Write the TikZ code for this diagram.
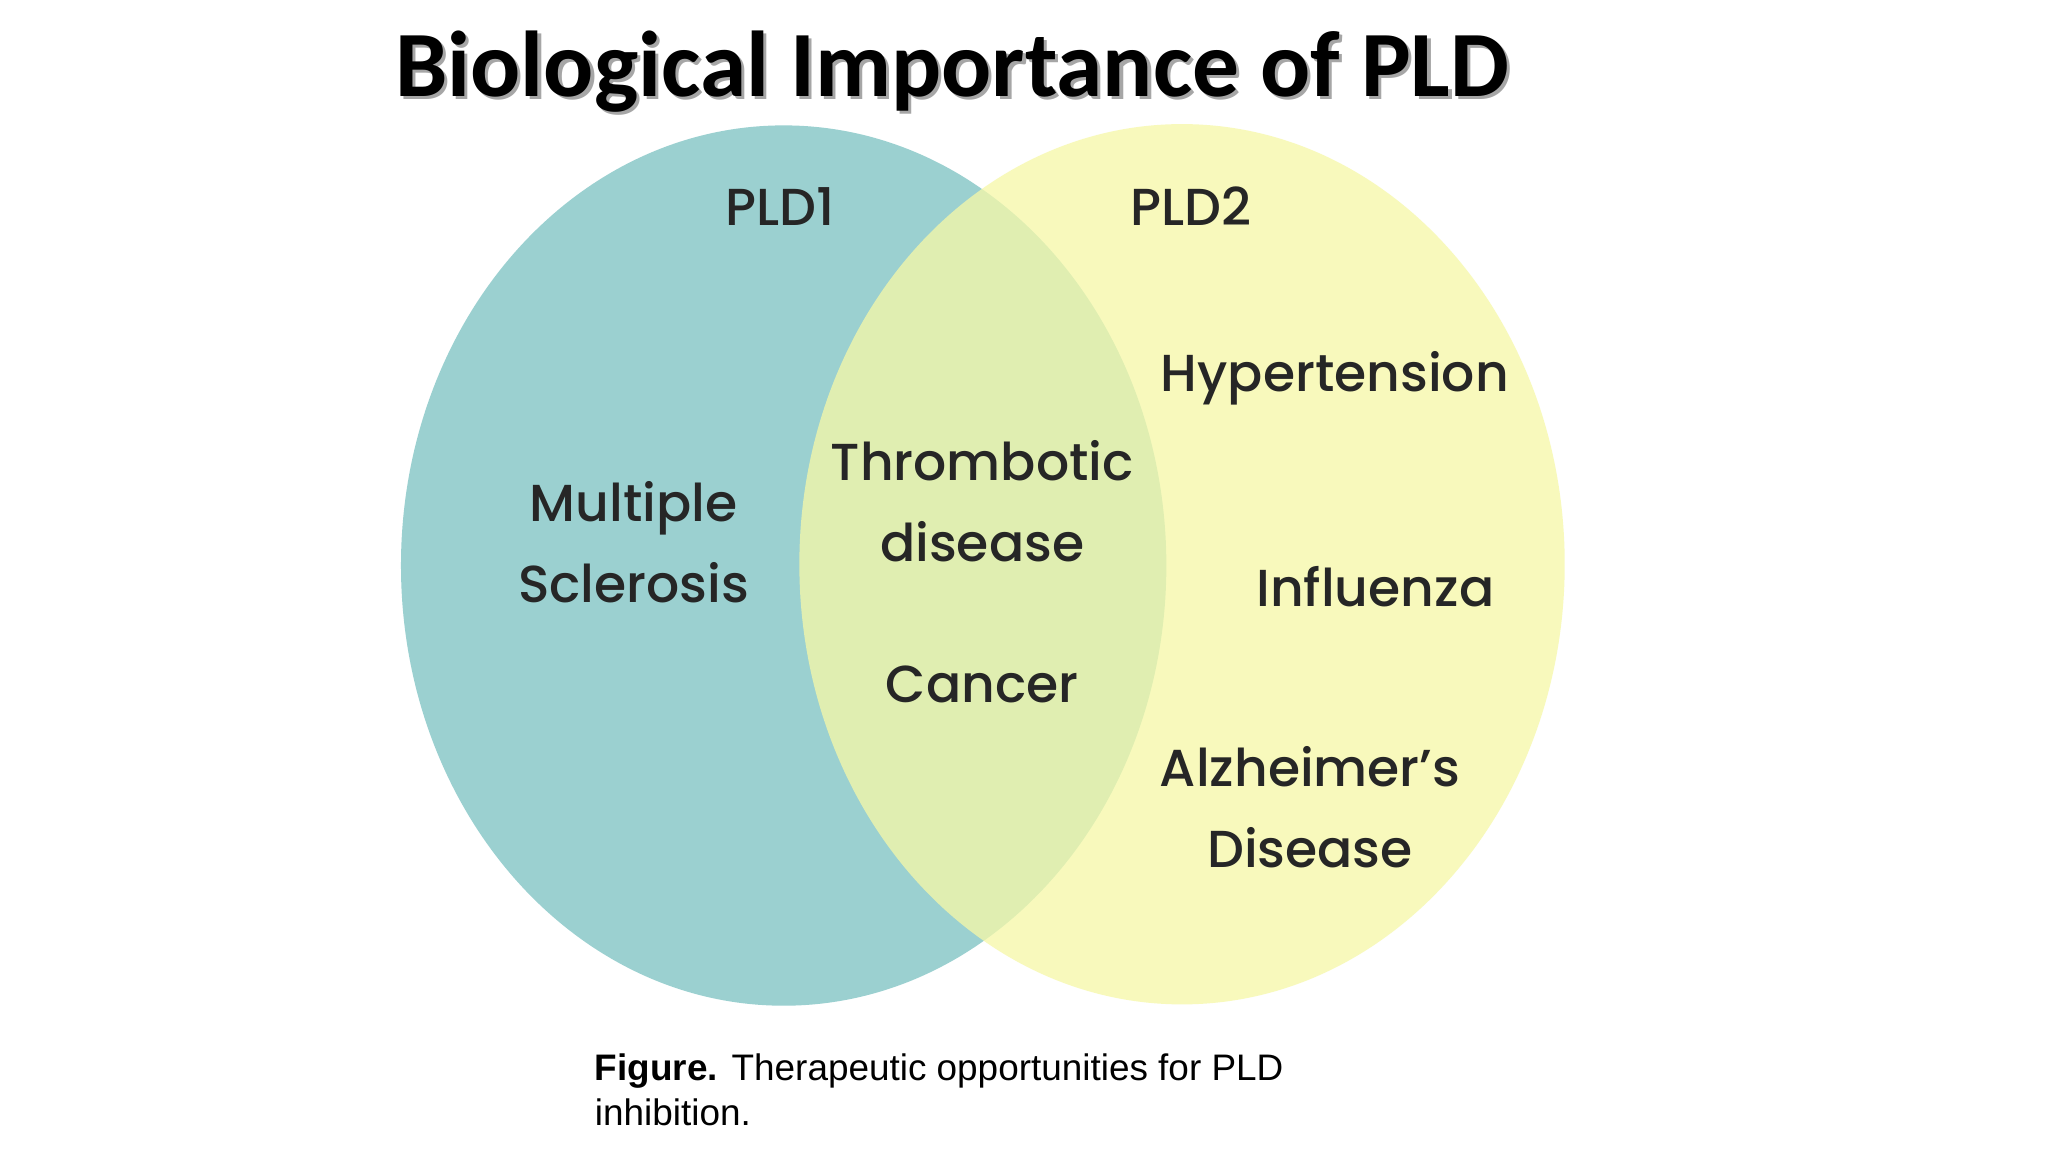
\documentclass[tikz,border=0pt]{standalone}
\usepackage{fontspec}
\setmainfont{Liberation Sans}
\newfontfamily\titlefont{Carlito}
\newfontfamily\lblfont{Poppins}[UprightFont=* Medium]
\begin{document}
\begin{tikzpicture}[x=0.01306cm,y=-0.01306cm,
  lbl/.style={font=\lblfont\fontsize{14.8}{18}\selectfont, align=center, text=black!85},
  ttl/.style={font=\titlefont\bfseries\fontsize{26.6}{32}\selectfont}]
\useasboundingbox (0,0) rectangle (1568,882);
\fill[white] (0,0) rectangle (1568,882);
\fill[fill={rgb,255:red,155;green,208;blue,208}] (600,433) ellipse [x radius=293, y radius=337];
\fill[fill={rgb,255:red,246;green,248;blue,168}, opacity=0.76] (905,432) ellipse [x radius=293, y radius=337];
\node[ttl, text=black!35, anchor=base] (tshadow) at (731.5,76.5) {Biological Importance of PLD};
\node[ttl, anchor=base] (title) at (729,74) {Biological Importance of PLD};
\node[lbl] (p1) at (597,158) {PLD1};
\node[lbl] (p2) at (912,158) {PLD2};
\node[lbl] (ms) at (485,415) {Multiple\\[5pt]Sclerosis};
\node[lbl] (td) at (752,384) {Thrombotic\\[5pt]disease};
\node[lbl] (ca) at (752,524) {Cancer};
\node[lbl] (hy) at (1022,290) {Hypertension};
\node[lbl] (in) at (1053,449) {Influenza};
\node[lbl] (al) at (1003,618) {Alzheimer’s\\[5pt]Disease};
\node[font=\fontsize{10.5}{13}\selectfont, align=left, anchor=north west] (cap) at (446,797) {\textbf{Figure.} Therapeutic opportunities for PLD\\inhibition.};
\end{tikzpicture}
\end{document}
